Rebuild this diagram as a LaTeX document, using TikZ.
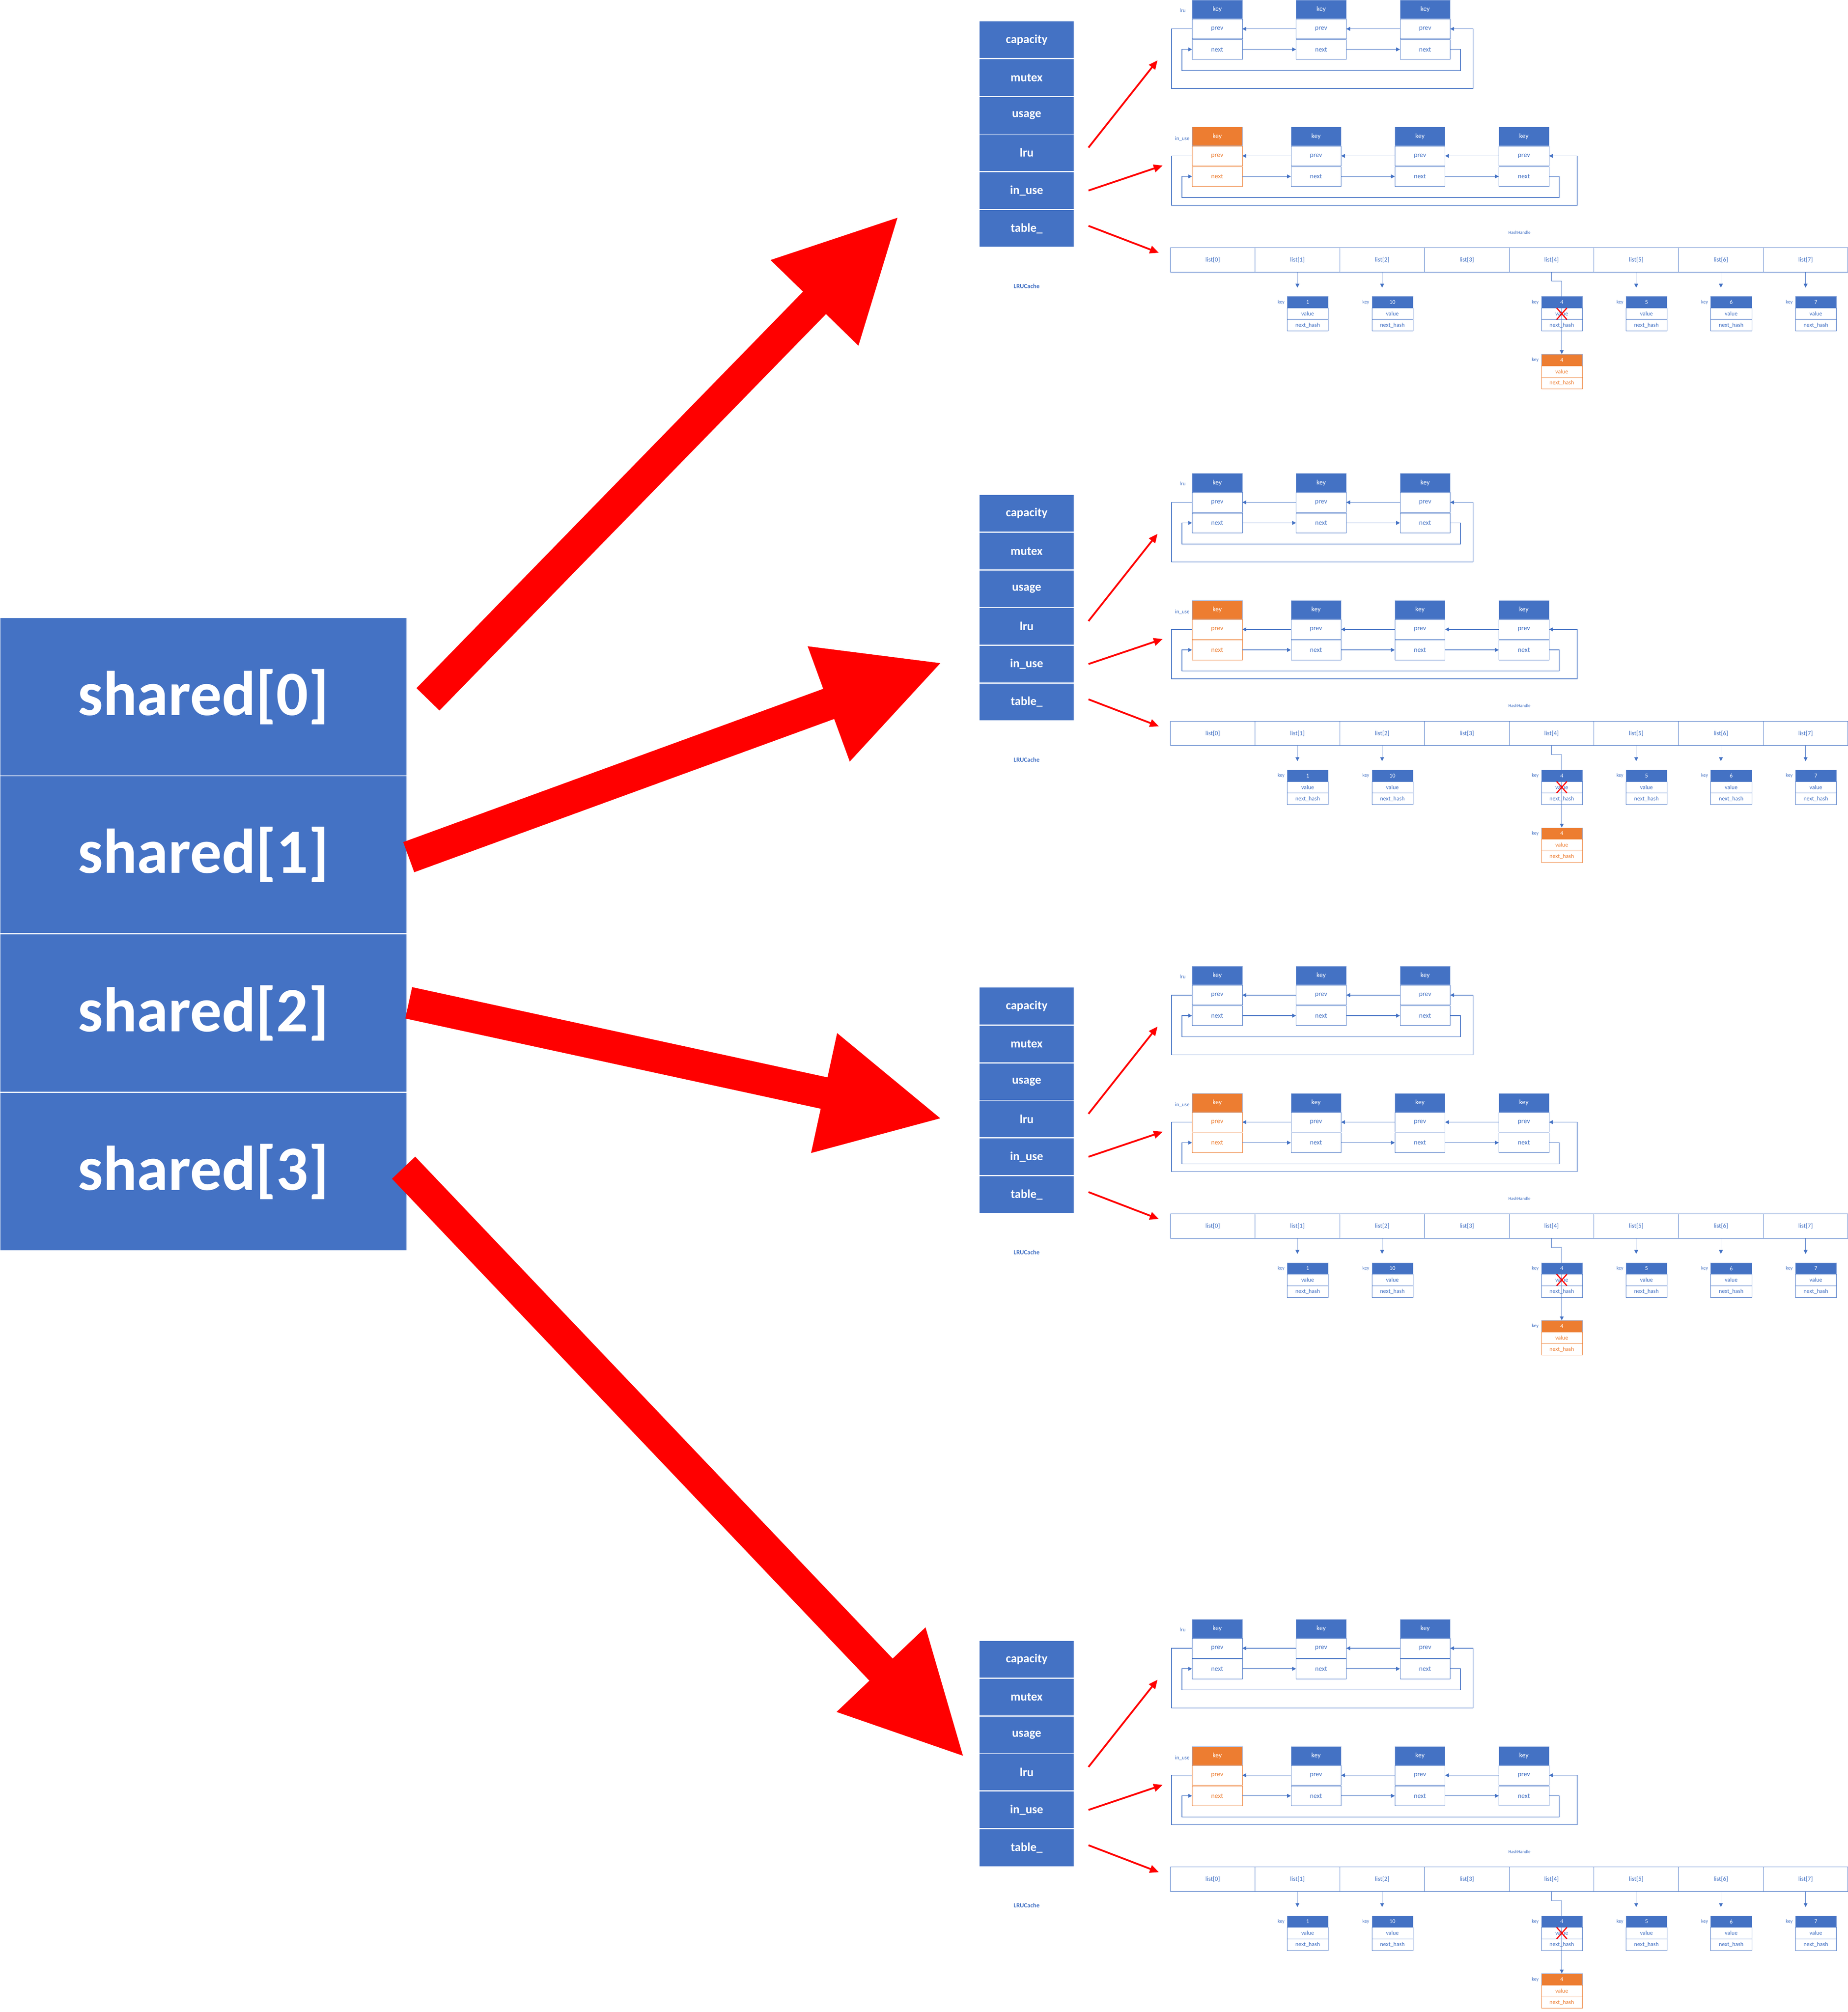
\documentclass[tikz,border=0pt]{standalone}
\usepackage{fontspec}
\setmainfont{Carlito}
\usetikzlibrary{arrows.meta}
\definecolor{bl}{HTML}{4472C4}
\definecolor{og}{HTML}{ED7D31}
\definecolor{lb}{HTML}{9DB4E0}
\definecolor{lo}{HTML}{F4B183}
\tikzset{
 x=1mm,y=-1mm,
 sh/.style={fill=bl,draw=white,line width=0.6mm,text=white,minimum width=317mm,minimum height=123mm,inner sep=0,font=\bfseries\fontsize{140}{140}\selectfont},
 fld/.style={fill=bl,draw=white,line width=0.4mm,text=white,minimum width=74mm,minimum height=29mm,inner sep=0,font=\bfseries\fontsize{27}{27}\selectfont},
 kb/.style={fill=#1,draw=lb,text=white,minimum width=39mm,minimum height=14.5mm,inner sep=0,font=\fontsize{15}{15}\selectfont},
 cb/.style={fill=white,draw=#1,text=#1,minimum width=39mm,minimum height=15.5mm,inner sep=0,font=\fontsize{15}{15}\selectfont},
 hk/.style={fill=#1,draw=lb,text=white,minimum width=32mm,minimum height=9mm,inner sep=0,font=\fontsize{13}{13}\selectfont},
 hv/.style={fill=white,draw=#1,text=#1,minimum width=32mm,minimum height=9mm,inner sep=0,font=\fontsize{13}{13}\selectfont},
 hc/.style={fill=white,draw=bl,line width=0.3mm,text=bl,minimum width=66mm,minimum height=19mm,inner sep=0,font=\fontsize{14}{14}\selectfont},
 lab/.style={text=bl,inner sep=0,font=\fontsize{12}{12}\selectfont},
 ln/.style={draw=bl,line width=0.45mm,-{Triangle[length=3mm,width=3mm]}},
 rarr/.style={draw=red,line width=1.4mm,-{Triangle[length=7mm,width=6mm]}},
 bigarr/.style={draw=red,line width=25mm,-{Triangle[length=95mm,width=88mm]}},
}
\newcommand\lrunode[4]{%
 \node[kb=#4] (#1k) at (#2,#3+7.25) {key};
 \node[cb=#4] (#1p) at (#2,#3+22.5) {prev};
 \node[cb=#4] (#1n) at (#2,#3+38.5) {next};
}
\newcommand\hnode[5]{%
 \node[hk=#5] (#1k) at (#2,#3+4.5) {#4};
 \node[hv=#5] (#1v) at (#2,#3+13.5) {value};
 \node[hv=#5] (#1n) at (#2,#3+22.5) {next\_hash};
 \node[lab,anchor=east,font=\fontsize{11}{11}\selectfont] (#1l) at (#2-18,#3+4.5) {key};
}
\newcommand\cacheblock[2]{%
\begin{scope}[yshift=-#2mm]
 \node[fld] (#1f1) at (800,31) {capacity};
 \node[fld] (#1f2) at (800,60.5) {mutex};
 \node[fld] (#1f3) at (800,90) {usage};
 \node[fld] (#1f4) at (800,119) {lru};
 \node[fld] (#1f5) at (800,148.5) {in\_use};
 \node[fld] (#1f6) at (800,178) {table\_};
 \node[lab,font=\bfseries\fontsize{14}{14}\selectfont] (#1lc) at (800,223) {LRUCache};
 \coordinate (#1t1) at (902,47);
 \coordinate (#1t2) at (906,129);
 \coordinate (#1t3) at (903,197);
 \draw[rarr] ([shift={(11,-4)}]#1f4.east) -- (#1t1);
 \draw[rarr] ([shift={(11,0)}]#1f5.east) -- (#1t2);
 \draw[rarr] ([shift={(11,-2)}]#1f6.east) -- (#1t3);
 % lru list
 \node[lab,anchor=east] (#1ll) at (924,8) {lru};
 \lrunode{#1a1}{948.5}{0}{bl}
 \lrunode{#1a2}{1029.5}{0}{bl}
 \lrunode{#1a3}{1110.5}{0}{bl}
 \draw[ln] (#1a2p.west) -- (#1a1p.east);
 \draw[ln] (#1a3p.west) -- (#1a2p.east);
 \draw[ln] (#1a1n.east) -- (#1a2n.west);
 \draw[ln] (#1a2n.east) -- (#1a3n.west);
 \draw[ln] (#1a1p.west) -- ++(-16,0) |- (1148,69) |- (#1a3p.east);
 \draw[ln] (#1a3n.east) -- ++(8,0) |- (921,55) |- (#1a1n.west);
 % in_use list
 \node[lab,anchor=east] (#1il) at (927,108) {in\_use};
 \lrunode{#1b1}{948.5}{99}{og}
 \lrunode{#1b2}{1025.5}{99}{bl}
 \lrunode{#1b3}{1106.5}{99}{bl}
 \lrunode{#1b4}{1187.5}{99}{bl}
 \draw[ln] (#1b2p.west) -- (#1b1p.east);
 \draw[ln] (#1b3p.west) -- (#1b2p.east);
 \draw[ln] (#1b4p.west) -- (#1b3p.east);
 \draw[ln] (#1b1n.east) -- (#1b2n.west);
 \draw[ln] (#1b2n.east) -- (#1b3n.west);
 \draw[ln] (#1b3n.east) -- (#1b4n.west);
 \draw[ln] (#1b1p.west) -- ++(-16,0) |- (1229,160) |- (#1b4p.east);
 \draw[ln] (#1b4n.east) -- ++(8,0) |- (921,154) |- (#1b1n.west);
 % hash table
 \node[lab,font=\fontsize{10}{10}\selectfont] (#1hh) at (1184,181) {HashHandle};
 \foreach \i in {0,...,7} {\node[hc] (#1h\i) at (945+66*\i,202.5) {list[\i]};}
 \hnode{#1n1}{1019}{231}{1}{bl}
 \hnode{#1n2}{1085}{231}{10}{bl}
 \hnode{#1n4}{1217}{231}{4}{bl}
 \hnode{#1n5}{1283}{231}{5}{bl}
 \hnode{#1n6}{1349}{231}{6}{bl}
 \hnode{#1n7}{1415}{231}{7}{bl}
 \hnode{#1o4}{1217}{276}{4}{og}
 \foreach \i in {1,2,5,6,7} {\draw[ln,line width=0.3mm] (#1h\i.south) -- ++(0,12);}
 \draw[ln,line width=0.3mm] (#1h4.south) -- ++(0,7) -| (#1o4k.north);
 \draw[red,line width=0.9mm] (1213,240) -- (1221,249) (1221,240) -- (1213,249);
\end{scope}}
\begin{document}
\begin{tikzpicture}
\useasboundingbox (0,0) rectangle (1440,1568);
\cacheblock{A}{0}
\cacheblock{B}{369}
\cacheblock{C}{753}
\cacheblock{D}{1262}
\node[sh] (s0) at (158.5,543) {shared[0]};
\node[sh] (s1) at (158.5,666) {shared[1]};
\node[sh] (s2) at (158.5,789.5) {shared[2]};
\node[sh] (s3) at (158.5,913) {shared[3]};
\coordinate (e0) at (701,168);
\coordinate (e1) at (735,516);
\coordinate (e2) at (735,872);
\coordinate (e3) at (752,1370);
\draw[bigarr] ([shift={(175,2)}]s0.center) -- (e0);
\draw[bigarr] ([shift={(160,2)}]s1.center) -- (e1);
\draw[bigarr] ([shift={(160,-8)}]s2.center) -- (e2);
\draw[bigarr] ([shift={(156,-3)}]s3.center) -- (e3);
\end{tikzpicture}
\end{document}
